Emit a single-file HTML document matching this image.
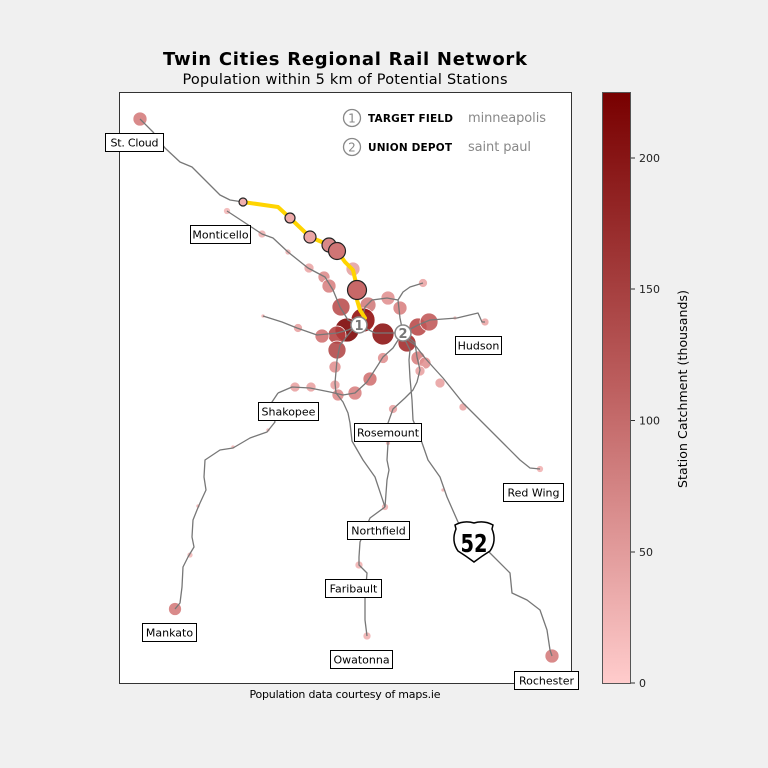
<!DOCTYPE html>
<html><head><meta charset="utf-8"><style>
html,body{margin:0;padding:0;background:#f0f0f0;}
svg{display:block;}
text{font-family:"DejaVu Sans","Liberation Sans",sans-serif;}
</style></head><body>
<svg width="768" height="768" viewBox="0 0 768 768" xmlns="http://www.w3.org/2000/svg">
<defs>
<linearGradient id="cb" x1="0" y1="0" x2="0" y2="1">
<stop offset="0" stop-color="#780000"/>
<stop offset="0.5" stop-color="#bd5f5f"/>
<stop offset="1" stop-color="#ffcccc"/>
</linearGradient>
</defs>
<rect width="768" height="768" fill="#f0f0f0"/>
<text x="345" y="65" font-size="18" font-weight="bold" text-anchor="middle" textLength="364" fill="#000">Twin Cities Regional Rail Network</text>
<text x="345" y="84" font-size="14.5" text-anchor="middle" textLength="325" fill="#000">Population within 5 km of Potential Stations</text>
<rect x="119.5" y="92.5" width="452" height="591" fill="#fff" stroke="#333" stroke-width="1"/>
<g stroke="#fff" stroke-width="0.7" fill-opacity="0.88">
<circle cx="140" cy="119" r="7" fill="#d47a7a"/>
<circle cx="227" cy="211" r="3.5" fill="#f2b5b5"/>
<circle cx="262" cy="234" r="4" fill="#eeb0b0"/>
<circle cx="288" cy="252" r="3" fill="#f0b0b0"/>
<circle cx="309" cy="268" r="5" fill="#eaa5a5"/>
<circle cx="324" cy="277" r="6" fill="#dd8a8a"/>
<circle cx="329" cy="286" r="7" fill="#d88080"/>
<circle cx="353" cy="269" r="7" fill="#e4a0a0"/>
<circle cx="341" cy="307" r="9" fill="#b84c4c"/>
<circle cx="368" cy="305" r="8" fill="#d07a7a"/>
<circle cx="388" cy="298" r="7" fill="#e09090"/>
<circle cx="400" cy="308" r="7" fill="#d88080"/>
<circle cx="423" cy="283" r="4.5" fill="#eaa5a5"/>
<circle cx="363" cy="320" r="12" fill="#8f0a0a"/>
<circle cx="347" cy="330" r="12" fill="#7a0000"/>
<circle cx="383" cy="334" r="11" fill="#8b1010"/>
<circle cx="418" cy="327" r="9" fill="#b84848"/>
<circle cx="429" cy="322" r="9" fill="#c05656"/>
<circle cx="407" cy="343" r="9" fill="#a02828"/>
<circle cx="337" cy="335" r="9" fill="#b44040"/>
<circle cx="322" cy="336" r="7" fill="#d07070"/>
<circle cx="337" cy="350" r="9" fill="#b04545"/>
<circle cx="298" cy="328" r="4.5" fill="#e8a0a0"/>
<circle cx="335" cy="367" r="6" fill="#e09090"/>
<circle cx="335" cy="385" r="5" fill="#e8a0a0"/>
<circle cx="295" cy="387" r="5" fill="#e8a0a0"/>
<circle cx="311" cy="387" r="5" fill="#e8a0a0"/>
<circle cx="338" cy="395" r="6" fill="#dd8888"/>
<circle cx="355" cy="393" r="7" fill="#d88080"/>
<circle cx="370" cy="379" r="7" fill="#d07070"/>
<circle cx="383" cy="358" r="5.5" fill="#e09090"/>
<circle cx="418" cy="358" r="7" fill="#d88080"/>
<circle cx="425" cy="363" r="6" fill="#e09090"/>
<circle cx="420" cy="371" r="5" fill="#e8a0a0"/>
<circle cx="440" cy="383" r="5" fill="#e8a0a0"/>
<circle cx="463" cy="407" r="4" fill="#eaa5a5"/>
<circle cx="393" cy="409" r="4.5" fill="#e8a0a0"/>
<circle cx="485" cy="322" r="4" fill="#eaa5a5"/>
<circle cx="540" cy="469" r="3.5" fill="#f0b0b0"/>
<circle cx="385" cy="507" r="3.5" fill="#f0b0b0"/>
<circle cx="359" cy="565" r="4" fill="#f0b0b0"/>
<circle cx="367" cy="636" r="4" fill="#f0b0b0"/>
<circle cx="175" cy="609" r="6.5" fill="#d47a7a"/>
<circle cx="552" cy="656" r="7" fill="#d47a7a"/>
<circle cx="190" cy="555" r="3" fill="#f2b8b8"/>
<circle cx="268" cy="430" r="2" fill="#f0b0b0"/>
<circle cx="233" cy="447" r="2" fill="#f0b0b0"/>
<circle cx="198" cy="506" r="2" fill="#f0b0b0"/>
<circle cx="388" cy="443" r="2.5" fill="#f0b0b0"/>
<circle cx="443" cy="490" r="2" fill="#f0b0b0"/>
<circle cx="263" cy="316" r="2" fill="#f0b0b0"/>
<circle cx="455" cy="318" r="2" fill="#f0b0b0"/>
</g>
<g fill="none" stroke="#777" stroke-width="1.3" stroke-linejoin="round">
<polyline points="140,119 153,132 165,148 180,162 192,167 200,175 220,195 230,200 243,202"/>
<polyline points="227,211 262,234 273,238 288,252 308,268 325,277 333,290 340,307 348,320 359,325"/>
<polyline points="263,316 282,322 297,328 317,335 337,333 348,330 359,325"/>
<polyline points="359,325 375,333 403,333"/>
<polyline points="403,333 418,325 430,320 457,318 478,313 482,322 485,322"/>
<polyline points="403,333 400,318 398,300 387,298 372,300 365,307 362,318"/>
<polyline points="398,300 403,292 410,287 423,283"/>
<polyline points="352,330 340,345 337,360 335,383 336,393 343,402 348,413 350,423 352,441 363,460 375,477 385,507"/>
<polyline points="278,393 292,387 310,388 330,392 343,395 355,393 367,382 378,365 383,357 393,348 400,337 403,333"/>
<polyline points="278,393 270,405 275,422 267,432 250,438 233,448 220,450 205,460 204,477 206,490 200,503 197,510 193,520 192,537 194,547 188,557 183,567 182,587 180,603 175,609"/>
<polyline points="403,333 415,343 417,357 420,370 417,382 413,390 405,398 393,409 388,423 388,443 387,460 389,470 387,480 385,507"/>
<polyline points="405,340 410,350 409,360 410,378 412,400 413,420 420,437 428,460 440,477 447,497 458,522 474,540 490,553 510,573 512,593 527,600 540,610 547,630 550,650 552,656"/>
<polyline points="405,338 415,345 425,358 433,367 443,378 463,403 485,425 505,445 520,460 530,468 540,469"/>
<polyline points="385,507 370,518 360,542 359,557 359,565 367,573 365,598 365,620 367,636"/>
</g>
<polyline points="243,202 278,207 290,218 310,237 329,245 337,251 345,262 353,270 356,283 357,290 357,300 360,310 365,318" fill="none" stroke="#ffd400" stroke-width="4" stroke-linejoin="round" stroke-linecap="round"/>
<g stroke="#222" stroke-width="1.2">
<circle cx="243" cy="202" r="4" fill="#f0b0b0"/>
<circle cx="290" cy="218" r="5" fill="#eeaaaa"/>
<circle cx="310" cy="237" r="6" fill="#eaa5a5"/>
<circle cx="329" cy="245" r="7" fill="#d88888"/>
<circle cx="337" cy="251" r="8.5" fill="#d07575"/>
<circle cx="357" cy="290" r="9.5" fill="#c86868"/>
</g>
<g font-size="13" font-weight="bold" fill="#777" text-anchor="middle">
<circle cx="359" cy="325" r="8" fill="#fff" stroke="#888" stroke-width="1.5"/>
<text x="359" y="330">1</text>
<circle cx="403" cy="333" r="8" fill="#fff" stroke="#888" stroke-width="1.5"/>
<text x="403" y="338">2</text>
</g>
<g font-size="11" fill="#000" text-anchor="middle">
<rect x="105.5" y="133.5" width="58" height="18" fill="#fff" stroke="#000"/><text x="134.5" y="146.5" textLength="48">St. Cloud</text>
<rect x="190.5" y="225.5" width="60" height="18" fill="#fff" stroke="#000"/><text x="220.5" y="238.5">Monticello</text>
<rect x="455.5" y="336.5" width="46" height="18" fill="#fff" stroke="#000"/><text x="478.5" y="349.5">Hudson</text>
<rect x="258.5" y="402.5" width="60" height="18" fill="#fff" stroke="#000"/><text x="288.5" y="415.5">Shakopee</text>
<rect x="354.5" y="423.5" width="67" height="18" fill="#fff" stroke="#000"/><text x="388" y="436.5">Rosemount</text>
<rect x="503.5" y="483.5" width="60" height="18" fill="#fff" stroke="#000"/><text x="533.5" y="496.5">Red Wing</text>
<rect x="347.5" y="521.5" width="62" height="18" fill="#fff" stroke="#000"/><text x="378.5" y="534.5">Northfield</text>
<rect x="325.5" y="579.5" width="56" height="18" fill="#fff" stroke="#000"/><text x="353.5" y="592.5">Faribault</text>
<rect x="142.5" y="623.5" width="54" height="18" fill="#fff" stroke="#000"/><text x="169.5" y="636.5">Mankato</text>
<rect x="330.5" y="650.5" width="62" height="18" fill="#fff" stroke="#000"/><text x="361.5" y="663.5">Owatonna</text>
<rect x="514.5" y="671.5" width="64" height="18" fill="#fff" stroke="#000"/><text x="546.5" y="684.5">Rochester</text>
</g>
<path d="M455,525 Q464,520 474,523 Q484,520 493,525 L492,529 Q497,541 490,551 Q482,556 474,562 Q466,556 458,551 Q451,541 456,529 Z" fill="#fff" stroke="#000" stroke-width="1.5"/>
<text x="474" y="552" font-size="25" font-weight="bold" text-anchor="middle" textLength="27" lengthAdjust="spacingAndGlyphs" fill="#000">52</text>
<g>
<circle cx="352" cy="118" r="8.5" fill="#fff" stroke="#888" stroke-width="1.3"/>
<text x="352" y="122.5" font-size="12" fill="#888" text-anchor="middle">1</text>
<circle cx="352" cy="147" r="8.5" fill="#fff" stroke="#888" stroke-width="1.3"/>
<text x="352" y="151.5" font-size="12" fill="#888" text-anchor="middle">2</text>
<text x="368" y="122" font-size="10.5" font-weight="bold" fill="#000" textLength="85">TARGET FIELD</text>
<text x="368" y="151" font-size="10.5" font-weight="bold" fill="#000" textLength="84">UNION DEPOT</text>
<text x="468" y="122" font-size="13" fill="#888" textLength="78">minneapolis</text>
<text x="468" y="151" font-size="13" fill="#888" textLength="63">saint paul</text>
</g>
<text x="345" y="698" font-size="11" text-anchor="middle" textLength="191" fill="#000">Population data courtesy of maps.ie</text>
<rect x="602.5" y="92.5" width="28" height="591" fill="url(#cb)" stroke="#555" stroke-width="1"/>
<g stroke="#000" stroke-width="0.8">
<line x1="631" y1="158" x2="635" y2="158"/>
<line x1="631" y1="289" x2="635" y2="289"/>
<line x1="631" y1="420.5" x2="635" y2="420.5"/>
<line x1="631" y1="552" x2="635" y2="552"/>
<line x1="631" y1="683" x2="635" y2="683"/>
</g>
<g font-size="11" fill="#222">
<text x="639" y="162">200</text>
<text x="639" y="293">150</text>
<text x="639" y="424.5">100</text>
<text x="639" y="556">50</text>
<text x="639" y="687">0</text>
</g>
<text transform="translate(687,389) rotate(-90)" font-size="12.5" text-anchor="middle" textLength="198" fill="#000">Station Catchment (thousands)</text>
</svg>
</body></html>
